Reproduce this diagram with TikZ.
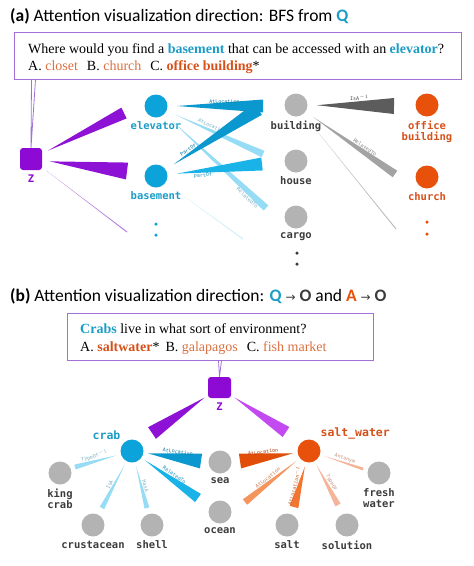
\documentclass[tikz,border=0pt]{standalone}
\usepackage{fontspec}
\setmainfont{Liberation Serif}
\newfontfamily\headfont{Carlito}
\newfontfamily\nodefont{DejaVu Sans Mono}
\newfontfamily\symfont{DejaVu Sans}
\usetikzlibrary{calc,positioning}

\definecolor{zpurple}{RGB}{140,10,212}
\definecolor{boxpurple}{RGB}{164,112,216}
\definecolor{ncyan}{RGB}{12,162,218}
\definecolor{tcyan}{RGB}{28,156,198}
\definecolor{norange}{RGB}{232,81,12}
\definecolor{torange}{RGB}{214,80,26}
\definecolor{tlorange}{RGB}{218,112,64}
\definecolor{ngray}{RGB}{179,179,179}
\definecolor{tgray}{RGB}{60,60,60}
\definecolor{cdark}{RGB}{11,152,206}
\definecolor{cmid}{RGB}{26,179,232}
\definecolor{clight}{RGB}{150,220,244}
\definecolor{cpale}{RGB}{201,238,249}
\definecolor{odark}{RGB}{224,78,10}
\definecolor{omid}{RGB}{240,118,50}
\definecolor{olight}{RGB}{244,149,94}
\definecolor{opale}{RGB}{245,180,154}
\definecolor{gdark}{RGB}{92,92,92}
\definecolor{gmid}{RGB}{163,163,163}
\definecolor{gpale}{RGB}{185,185,185}
\definecolor{pdark}{RGB}{142,18,214}
\definecolor{pmag}{RGB}{194,74,240}
\definecolor{pthin}{RGB}{180,123,220}

% attention wedge: gap, colour, source, broad end, half width, label, label placement
\newcommand{\attn}[7][21pt]{%
  \coordinate (tip) at ($(#3)!#1!(#4)$);
  \fill[#2] (tip) -- ($(#4)!#5!90:(tip)$) -- ($(#4)!#5!-90:(tip)$) -- cycle;
  \path (tip) -- (#4) node[elabel, text=#2!80!black, sloped, #7] {#6};
}

\begin{document}
\begin{tikzpicture}[x=1pt, y=-1pt, label distance=3pt,
    headtxt/.style={font=\headfont\fontsize{17.5}{20}\selectfont, inner sep=0pt},
    qtxt/.style={font=\fontsize{14}{16}\selectfont, inner sep=0pt},
    qbox/.style={draw=boxpurple, line width=1pt, inner sep=0pt},
    qline/.style={draw=boxpurple, line width=0.8pt},
    cnode/.style={circle, fill=ncyan, minimum size=23pt, inner sep=0pt},
    gnode/.style={circle, fill=ngray, minimum size=23pt, inner sep=0pt},
    onode/.style={circle, fill=norange, minimum size=23pt, inner sep=0pt},
    znode/.style={rectangle, rounded corners=3pt, fill=zpurple, minimum size=22pt, inner sep=0pt},
    cdot/.style={circle, fill=ncyan, minimum size=3.5pt, inner sep=0pt},
    gdot/.style={circle, fill=tgray, minimum size=3.5pt, inner sep=0pt},
    odot/.style={circle, fill=norange, minimum size=3.5pt, inner sep=0pt},
    lab/.style={font=\nodefont\bfseries\fontsize{10.5}{11}\selectfont, inner sep=1pt, align=center},
    clab/.style={lab, text=tcyan},
    glab/.style={lab, text=tgray},
    olab/.style={lab, text=torange},
    zlab/.style={lab, text=zpurple},
    biglab/.style={font=\nodefont\bfseries\fontsize{11.5}{12}\selectfont, inner sep=1pt},
    elabel/.style={font=\nodefont\fontsize{5}{5}\selectfont, inner sep=0.5pt}]
  \useasboundingbox (0,0) rectangle (474,566);

  % (a) BFS from Q
  \node[headtxt, anchor=base west] (titlea) at (10,21)
    {\textbf{(a)}\hspace{4pt}Attention visualization direction: BFS from \textbf{\color{tcyan}Q}};
  \node[qbox, minimum width=447pt, minimum height=47pt] (qa) at (237.5,55.5) {};
  \node[qtxt, anchor=base west] (qa1) at (28,53)
    {Where would you find a \textbf{\color{tcyan}basement} that can be accessed with an \textbf{\color{tcyan}elevator}?};
  \node[qtxt, anchor=base west] (qa2) at (28,70)
    {A. {\color{tlorange}closet}\hspace{9pt}B. {\color{tlorange}church}\hspace{9pt}C. \textbf{\color{torange}office building}*};

  \node[znode, label={[zlab]below:Z}] (Za) at (31,159) {};
  \draw[qline] ([xshift=18pt]qa.south west) -- (Za.north) -- ([xshift=22pt]qa.south west);

  \node[cnode, label={[clab]below:elevator}] (elevator) at (156,106) {};
  \node[cnode, label={[clab]below:basement}] (basement) at (156,176) {};
  \node[cdot] (bdot1) at (156,224) {};
  \node[cdot] (bdot2) at (156,235) {};
  \node[gnode, label={[glab]below:building}] (building) at (296,105) {};
  \node[gnode, label={[glab]below:house}] (house) at (296,161) {};
  \node[gnode, label={[glab]below:cargo}] (cargo) at (296,217) {};
  \node[gdot] (gdot1) at (297,253) {};
  \node[gdot] (gdot2) at (297,264) {};
  \node[onode, label={[olab]below:{office\\building}}] (office) at (427,105) {};
  \node[onode, label={[olab]below:church}] (church) at (427,177) {};
  \node[odot] (odot1) at (427,222) {};
  \node[odot] (odot2) at (427,234) {};

  \coordinate (z-el) at (124,113);
  \coordinate (z-ba) at (127,171);
  \coordinate (z-dn) at (127,232);
  \coordinate (el-bu) at (263,106);
  \coordinate (el-ho) at (263,154);
  \coordinate (el-ca) at (266,208);
  \coordinate (ba-bu) at (258,109);
  \coordinate (ba-ho) at (262,164);
  \coordinate (ba-dn) at (243,239);
  \coordinate (bu-of) at (394,106);
  \coordinate (bu-ch) at (395,174);
  \coordinate (bu-dn) at (396,229);

  \attn[19pt]{pdark}{Za}{z-el}{6pt}{}{}
  \attn[19pt]{pdark}{Za}{z-ba}{8.5pt}{}{}
  \attn[19pt]{pthin}{Za}{z-dn}{0.5pt}{}{}
  \attn{cpale}{basement}{ba-dn}{0.5pt}{}{}
  \attn{clight}{elevator}{el-ca}{3.5pt}{RelatedTo}{below=2.5pt, pos=0.84}
  \attn{clight}{elevator}{el-ho}{3.5pt}{AtLocation}{above=2pt, pos=0.4}
  \attn{cmid}{basement}{ba-ho}{6.5pt}{PartOf}{below=2pt, pos=0.3}
  \attn{cdark}{elevator}{el-bu}{6.5pt}{AtLocation}{above=2pt, pos=0.55}
  \attn{cdark}{basement}{ba-bu}{7pt}{PartOf}{above=1.5pt, pos=0.2}
  \attn{gpale}{building}{bu-dn}{0.5pt}{}{}
  \attn{gmid}{building}{bu-ch}{4pt}{RelatedTo}{above=2pt, pos=0.6}
  \attn{gdark}{building}{bu-of}{8pt}{IsA$^{-1}$}{above=4pt, pos=0.55}

  % (b) Q -> O and A -> O
  \node[headtxt, anchor=base west] (titleb) at (10,301)
    {\textbf{(b)}\hspace{4pt}Attention visualization direction: \textbf{\color{tcyan}Q} {\symfont\fontsize{12}{14}\selectfont\color{tgray}→} \textbf{\color{tgray}O} and \textbf{\color{norange}A} {\symfont\fontsize{12}{14}\selectfont\color{tgray}→} \textbf{\color{tgray}O}};
  \node[qbox, minimum width=306pt, minimum height=47pt] (qb) at (220,336.5) {};
  \node[qtxt, anchor=base west] (qb1) at (80,333)
    {\textbf{\color{tcyan}Crabs} live in what sort of environment?};
  \node[qtxt, anchor=base west] (qb2) at (80,351)
    {A. \textbf{\color{torange}saltwater}*\hspace{6pt}B. {\color{tlorange}galapagos}\hspace{9pt}C. {\color{tlorange}fish market}};

  \node[znode, minimum width=23pt, minimum height=21pt, label={[zlab]below:Z}] (Zb) at (219.5,387.5) {};
  \draw[qline] ([xshift=-1.5pt]qb.south) -- (Zb.north) -- ([xshift=1.5pt]qb.south);

  \node[cnode, label={[biglab, text=tcyan]above left:crab}] (crab) at (132,451) {};
  \node[onode, label={[biglab, text=torange]above right:salt\_water}] (saltw) at (309,451) {};
  \node[gnode, label={[glab]below:{king\\crab}}] (kingcrab) at (60,473) {};
  \node[gnode, label={[glab]below:crustacean}] (crust) at (93,525) {};
  \node[gnode, label={[glab]below:shell}] (shell) at (152,525) {};
  \node[gnode, label={[glab]below:sea}] (sea) at (220,462) {};
  \node[gnode, label={[glab]below:ocean}] (ocean) at (220,512) {};
  \node[gnode, label={[glab]below:salt}] (salt) at (287,525) {};
  \node[gnode, label={[glab]below:solution}] (solution) at (347,525) {};
  \node[gnode, label={[glab]below:{fresh\\water}}] (fresh) at (379,473) {};

  \coordinate (z-cr) at (152,433);
  \coordinate (z-sw) at (286,432);
  \coordinate (cr-kc) at (75,467);
  \coordinate (cr-cu) at (102,508);
  \coordinate (cr-sh) at (147,508);
  \coordinate (cr-se) at (201,461);
  \coordinate (cr-oc) at (198,498);
  \coordinate (sw-se) at (240,461);
  \coordinate (sw-oc) at (245,502);
  \coordinate (sw-sa) at (294,507);
  \coordinate (sw-so) at (338,505);
  \coordinate (sw-fw) at (363,469);

  \attn[18pt]{pdark}{Zb}{z-cr}{7pt}{}{}
  \attn[18pt]{pmag}{Zb}{z-sw}{6pt}{}{}
  \attn[16pt]{clight}{crab}{cr-kc}{2.5pt}{TypeOf$^{-1}$}{above=1.5pt, pos=0.5}
  \attn[16pt]{clight}{crab}{cr-cu}{2.5pt}{IsA}{above=1.5pt, pos=0.5}
  \attn[16pt]{clight}{crab}{cr-sh}{2.5pt}{HasA}{above=1.5pt, pos=0.5}
  \attn[16pt]{cmid}{crab}{cr-oc}{5pt}{RelatedTo}{above=2.5pt, pos=0.5}
  \attn[16pt]{cdark}{crab}{cr-se}{7.5pt}{AtLocation}{above=3pt, pos=0.55}
  \attn[16pt]{opale}{saltw}{sw-fw}{1.5pt}{Antonym}{above=1pt, pos=0.5}
  \attn[16pt]{opale}{saltw}{sw-so}{3pt}{TypeOf}{above=1.5pt, pos=0.5}
  \attn[16pt]{olight}{saltw}{sw-oc}{3.5pt}{AtLocation}{above=2pt, pos=0.5}
  \attn[16pt]{omid}{saltw}{sw-sa}{4.5pt}{AtLocation$^{-1}$}{above=2pt, pos=0.5}
  \attn[16pt]{odark}{saltw}{sw-se}{7.5pt}{AtLocation}{above=3pt, pos=0.55}
\end{tikzpicture}
\end{document}
